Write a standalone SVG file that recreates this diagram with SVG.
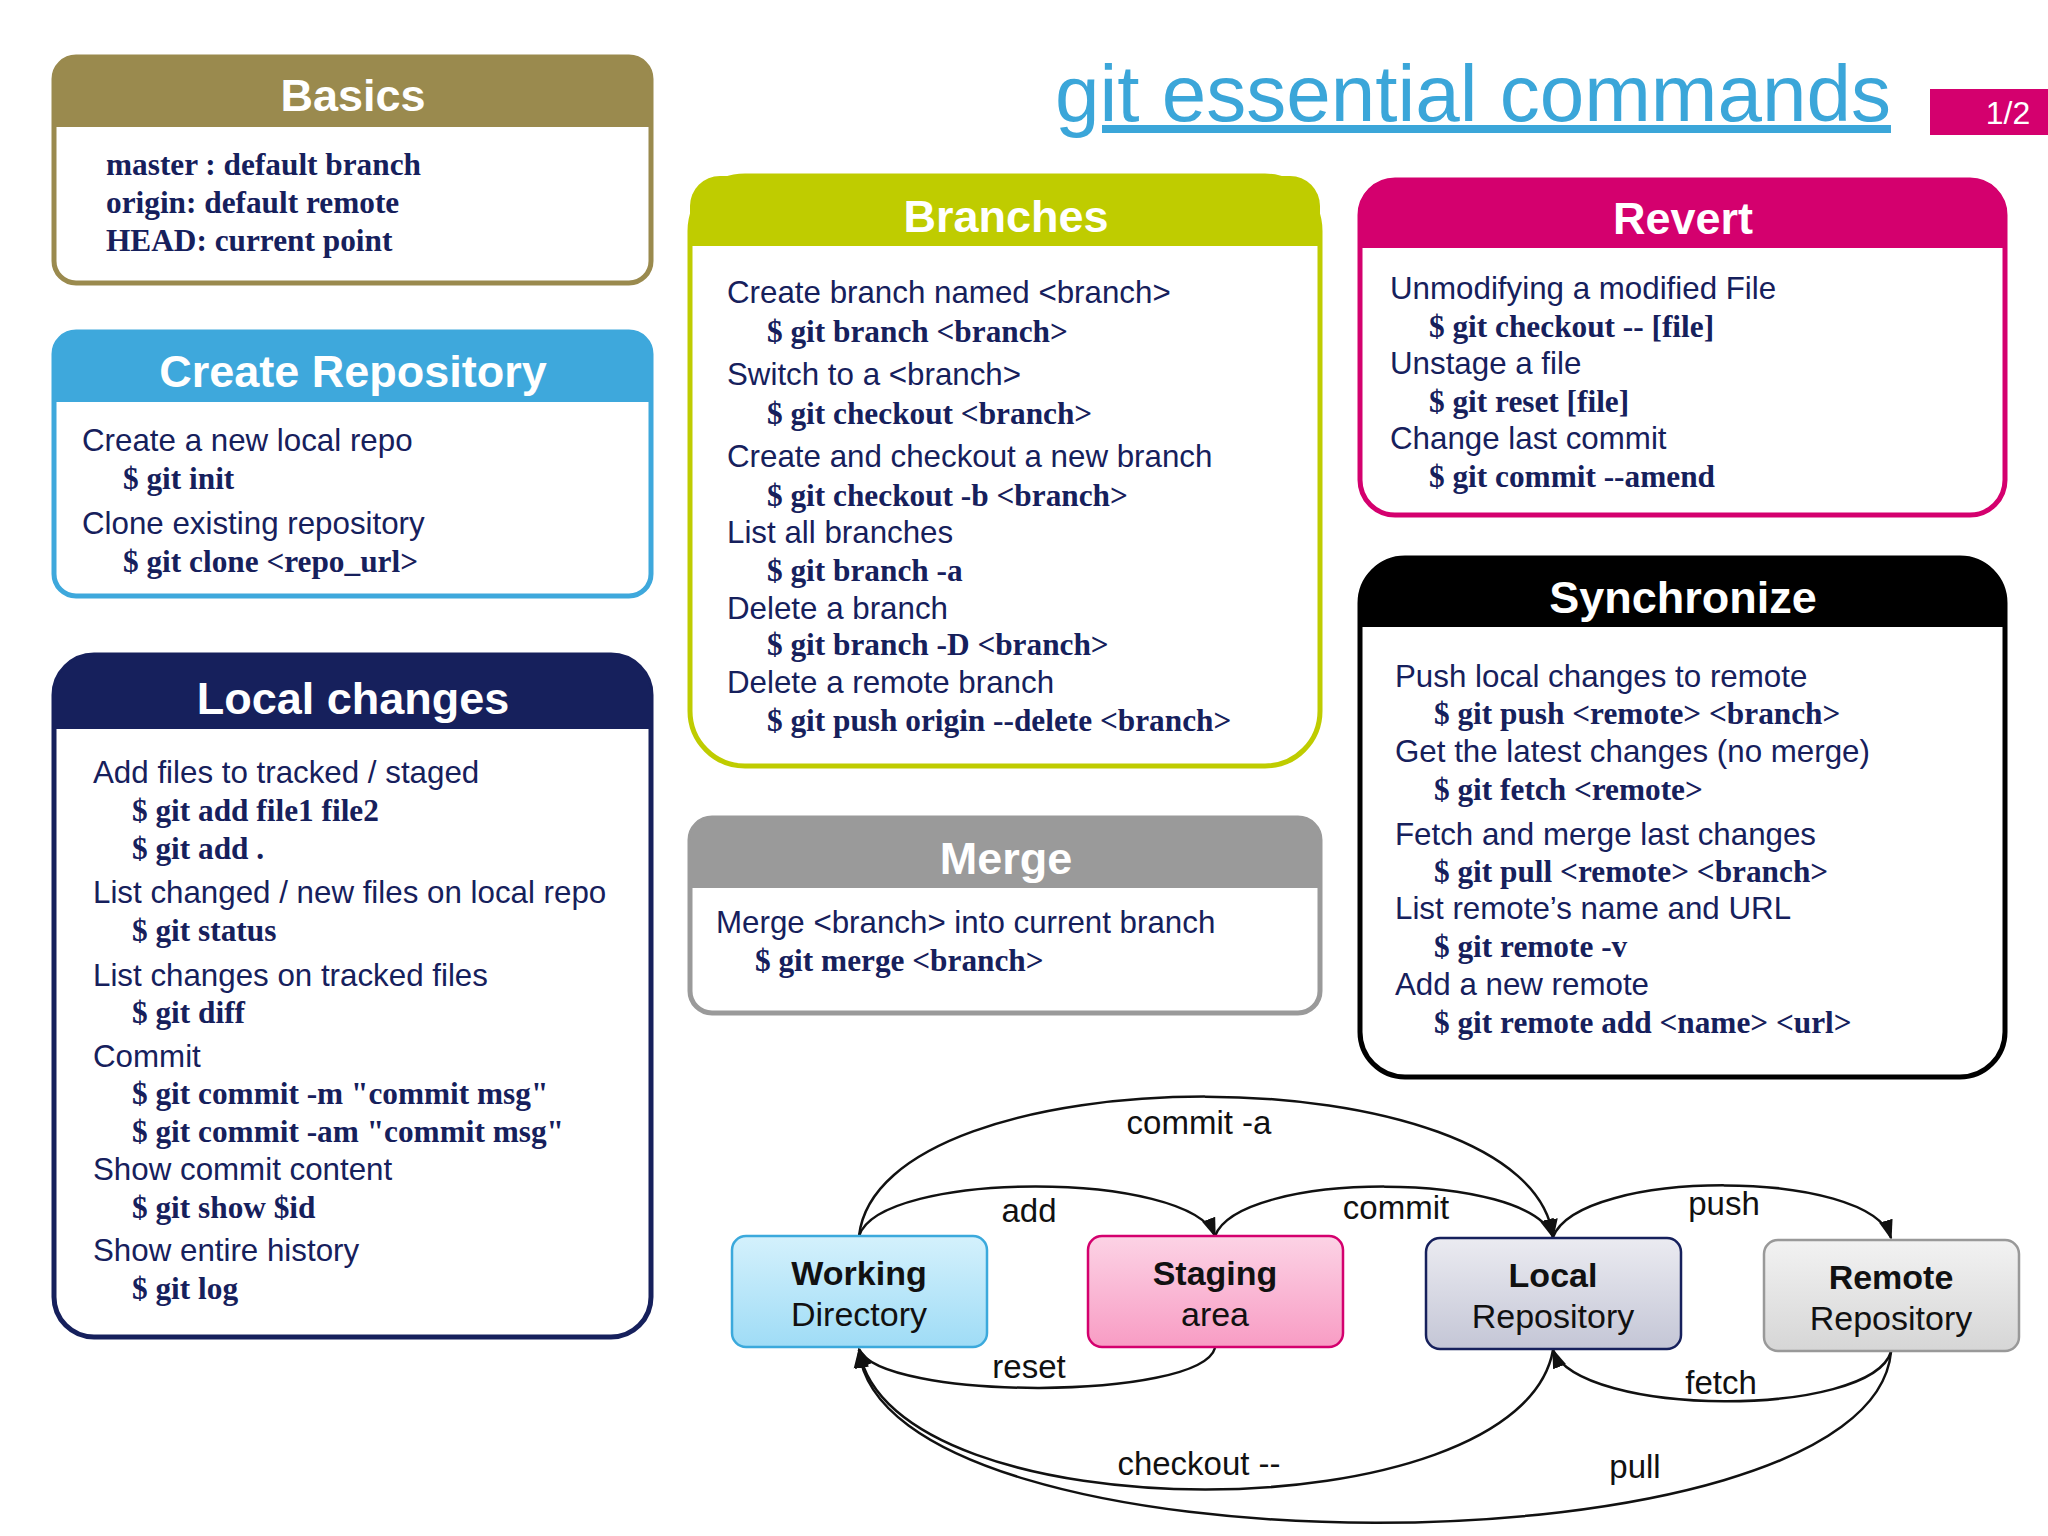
<svg xmlns="http://www.w3.org/2000/svg" width="2048" height="1536" viewBox="0 0 2048 1536">
<style>
.h{font-family:"Liberation Sans",Arial,sans-serif;font-weight:bold;font-size:45px;fill:#fff;text-anchor:middle}
.t{font-family:"Liberation Sans",Arial,sans-serif;font-size:31.3px;fill:#16205c}
.c{font-family:"Liberation Serif","Times New Roman",serif;font-weight:bold;font-size:31.3px;fill:#16205c}
.l{font-family:"Liberation Sans",Arial,sans-serif;font-size:33px;fill:#111;text-anchor:middle}
.n1{font-family:"Liberation Sans",Arial,sans-serif;font-weight:bold;font-size:34px;fill:#111;text-anchor:middle}
.n2{font-family:"Liberation Sans",Arial,sans-serif;font-size:34px;fill:#111;text-anchor:middle}
.e{fill:none;stroke:#111;stroke-width:2.5;marker-end:url(#a)}
</style>
<defs>
<marker id="a" viewBox="0 0 20 20" refX="18" refY="10" markerWidth="20" markerHeight="20" markerUnits="userSpaceOnUse" orient="auto"><path d="M0,3 L20,10 L0,17 z" fill="#111"/></marker>
<linearGradient id="gw" x1="0" y1="0" x2="0" y2="1"><stop offset="0" stop-color="#d4f1fc"/><stop offset="1" stop-color="#9fdcf6"/></linearGradient>
<linearGradient id="gs" x1="0" y1="0" x2="0" y2="1"><stop offset="0" stop-color="#fcd3e5"/><stop offset="1" stop-color="#f89cc4"/></linearGradient>
<linearGradient id="gl" x1="0" y1="0" x2="0" y2="1"><stop offset="0" stop-color="#ebebf1"/><stop offset="1" stop-color="#c4c6d6"/></linearGradient>
<linearGradient id="gr" x1="0" y1="0" x2="0" y2="1"><stop offset="0" stop-color="#f2f2f2"/><stop offset="1" stop-color="#d6d6d6"/></linearGradient>
</defs>
<rect width="2048" height="1536" fill="#fff"/>
<g id="title">
<text x="1473" y="121" font-family="Liberation Sans,Arial,sans-serif" font-size="80" fill="#3ba6d9" text-anchor="middle" text-decoration="underline">git essential commands</text>
<rect x="1930" y="89" width="118" height="46" fill="#d4006e"/>
<text x="2008" y="124" font-family="Liberation Sans,Arial,sans-serif" font-size="32" fill="#fff" text-anchor="middle">1/2</text>
</g>
<g id="basics">
<rect x="54" y="57" width="597" height="226" rx="22" fill="#fff" stroke="#9a8a4e" stroke-width="5"/>
<path d="M54,127 V79 a22,22 0 0 1 22,-22 H629 a22,22 0 0 1 22,22 V127 z" fill="#9a8a4e"/>
<text class="h" x="353" y="111">Basics</text>
<text class="c" x="106" y="175">master : default branch</text>
<text class="c" x="106" y="213">origin: default remote</text>
<text class="c" x="106" y="251">HEAD: current point</text>
</g>
<g id="create">
<rect x="54" y="332" width="597" height="264" rx="22" fill="#fff" stroke="#3ea8dc" stroke-width="5"/>
<path d="M54,402 V354 a22,22 0 0 1 22,-22 H629 a22,22 0 0 1 22,22 V402 z" fill="#3ea8dc"/>
<text class="h" x="353" y="387">Create Repository</text>
<text class="t" x="82" y="451">Create a new local repo</text>
<text class="c" x="123" y="489">$ git init</text>
<text class="t" x="82" y="534">Clone existing repository</text>
<text class="c" x="123" y="572">$ git clone &lt;repo_url&gt;</text>
</g>
<g id="local">
<rect x="54" y="655" width="597" height="682" rx="40" fill="#fff" stroke="#16205c" stroke-width="5"/>
<path d="M54,729 V695 a40,40 0 0 1 40,-40 H611 a40,40 0 0 1 40,40 V729 z" fill="#16205c"/>
<text class="h" x="353" y="714">Local changes</text>
<text class="t" x="93" y="783">Add files to tracked / staged</text>
<text class="c" x="132" y="821">$ git add file1 file2</text>
<text class="c" x="132" y="859">$ git add .</text>
<text class="t" x="93" y="903">List changed / new files on local repo</text>
<text class="c" x="132" y="941">$ git status</text>
<text class="t" x="93" y="986">List changes on tracked files</text>
<text class="c" x="132" y="1023">$ git diff</text>
<text class="t" x="93" y="1067">Commit</text>
<text class="c" x="132" y="1104">$ git commit -m "commit msg"</text>
<text class="c" x="132" y="1142">$ git commit -am "commit msg"</text>
<text class="t" x="93" y="1180">Show commit content</text>
<text class="c" x="132" y="1218">$ git show $id</text>
<text class="t" x="93" y="1261">Show entire history</text>
<text class="c" x="132" y="1299">$ git log</text>
</g>
<g id="branches">
<rect x="690" y="176" width="630" height="590" rx="55" fill="#fff" stroke="#bfcc00" stroke-width="5"/>
<path d="M690,246 V206 a30,30 0 0 1 30,-30 H1290 a30,30 0 0 1 30,30 V246 z" fill="#bfcc00"/>
<text class="h" x="1006" y="232">Branches</text>
<text class="t" x="727" y="303">Create branch named &lt;branch&gt;</text>
<text class="c" x="767" y="342">$ git branch &lt;branch&gt;</text>
<text class="t" x="727" y="385">Switch to a &lt;branch&gt;</text>
<text class="c" x="767" y="424">$ git checkout &lt;branch&gt;</text>
<text class="t" x="727" y="467">Create and checkout a new branch</text>
<text class="c" x="767" y="506">$ git checkout -b &lt;branch&gt;</text>
<text class="t" x="727" y="543">List all branches</text>
<text class="c" x="767" y="581">$ git branch -a</text>
<text class="t" x="727" y="619">Delete a branch</text>
<text class="c" x="767" y="655">$ git branch -D &lt;branch&gt;</text>
<text class="t" x="727" y="693">Delete a remote branch</text>
<text class="c" x="767" y="731">$ git push origin --delete &lt;branch&gt;</text>
</g>
<g id="merge">
<rect x="690" y="818" width="630" height="195" rx="22" fill="#fff" stroke="#9a9a9a" stroke-width="5"/>
<path d="M690,888 V840 a22,22 0 0 1 22,-22 H1298 a22,22 0 0 1 22,22 V888 z" fill="#9a9a9a"/>
<text class="h" x="1006" y="874">Merge</text>
<text class="t" x="716" y="933">Merge &lt;branch&gt; into current branch</text>
<text class="c" x="755" y="971">$ git merge &lt;branch&gt;</text>
</g>
<g id="revert">
<rect x="1360" y="180" width="645" height="335" rx="35" fill="#fff" stroke="#d4006e" stroke-width="5"/>
<path d="M1360,248 V210 a30,30 0 0 1 30,-30 H1975 a30,30 0 0 1 30,30 V248 z" fill="#d4006e"/>
<text class="h" x="1683" y="234">Revert</text>
<text class="t" x="1390" y="299">Unmodifying a modified File</text>
<text class="c" x="1429" y="337">$ git checkout -- [file]</text>
<text class="t" x="1390" y="374">Unstage a file</text>
<text class="c" x="1429" y="412">$ git reset [file]</text>
<text class="t" x="1390" y="449">Change last commit</text>
<text class="c" x="1429" y="487">$ git commit --amend</text>
</g>
<g id="sync">
<rect x="1360" y="558" width="645" height="519" rx="45" fill="#fff" stroke="#000" stroke-width="5"/>
<path d="M1360,627 V598 a40,40 0 0 1 40,-40 H1965 a40,40 0 0 1 40,40 V627 z" fill="#000"/>
<text class="h" x="1683" y="613">Synchronize</text>
<text class="t" x="1395" y="687">Push local changes to remote</text>
<text class="c" x="1434" y="724">$ git push &lt;remote&gt; &lt;branch&gt;</text>
<text class="t" x="1395" y="762">Get the latest changes (no merge)</text>
<text class="c" x="1434" y="800">$ git fetch &lt;remote&gt;</text>
<text class="t" x="1395" y="845">Fetch and merge last changes</text>
<text class="c" x="1434" y="882">$ git pull &lt;remote&gt; &lt;branch&gt;</text>
<text class="t" x="1395" y="919">List remote’s name and URL</text>
<text class="c" x="1434" y="957">$ git remote -v</text>
<text class="t" x="1395" y="995">Add a new remote</text>
<text class="c" x="1434" y="1033">$ git remote add &lt;name&gt; &lt;url&gt;</text>
</g>
<g id="connectors">
<path class="e" d="M859,1236 C880,1170 1190,1170 1215,1236"/>
<path class="e" d="M1215,1236 C1240,1170 1530,1170 1553,1237"/>
<path class="e" d="M1553,1237 C1580,1168 1870,1168 1891,1238"/>
<path class="e" d="M859,1236 C880,1050 1530,1050 1553,1237"/>
<path class="e" d="M1215,1348 C1200,1401 880,1401 859,1349"/>
<path class="e" d="M1891,1352 C1870,1418 1580,1418 1553,1350"/>
<path class="e" d="M1553,1350 C1520,1536 890,1536 859,1350"/>
<path class="e" d="M1891,1352 C1870,1580 880,1580 859,1350"/>
<text class="l" x="1199" y="1134">commit -a</text>
<text class="l" x="1029" y="1222">add</text>
<text class="l" x="1396" y="1219">commit</text>
<text class="l" x="1724" y="1215">push</text>
<text class="l" x="1029" y="1378">reset</text>
<text class="l" x="1721" y="1394">fetch</text>
<text class="l" x="1199" y="1475">checkout --</text>
<text class="l" x="1635" y="1478">pull</text>
</g>
<g id="working">
<rect x="732" y="1236" width="255" height="111" rx="14" fill="url(#gw)" stroke="#3ba9dc" stroke-width="2.5"/>
<text class="n1" x="859" y="1285">Working</text>
<text class="n2" x="859" y="1326">Directory</text>
</g>
<g id="staging">
<rect x="1088" y="1236" width="255" height="111" rx="14" fill="url(#gs)" stroke="#d4006e" stroke-width="2.5"/>
<text class="n1" x="1215" y="1285">Staging</text>
<text class="n2" x="1215" y="1326">area</text>
</g>
<g id="localrepo">
<rect x="1426" y="1238" width="255" height="111" rx="14" fill="url(#gl)" stroke="#16205c" stroke-width="2.5"/>
<text class="n1" x="1553" y="1287">Local</text>
<text class="n2" x="1553" y="1328">Repository</text>
</g>
<g id="remote">
<rect x="1764" y="1240" width="255" height="111" rx="14" fill="url(#gr)" stroke="#999" stroke-width="2.5"/>
<text class="n1" x="1891" y="1289">Remote</text>
<text class="n2" x="1891" y="1330">Repository</text>
</g>
</svg>
